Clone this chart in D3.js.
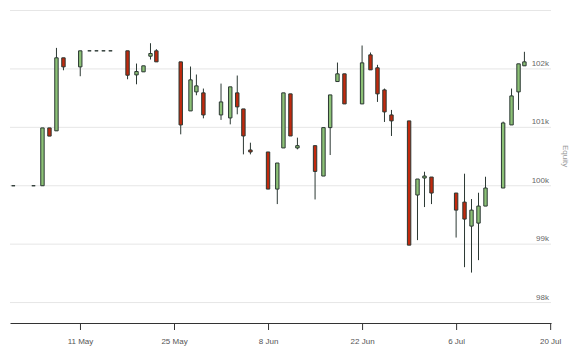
<!DOCTYPE html>
<html lang="en">
<head>
<meta charset="UTF-8">
<title>Equity Candlestick</title>
<script src="https://d3js.org/d3.v7.min.js"></script>
<style>
  body { margin: 0; background: #fff; }
  text { font-family: "Liberation Sans", Arial, sans-serif; }
</style>
</head>
<body>
<script>
// daily equity candles (timestamps)
var dates = [
  "2020-05-01T02:00", "2020-05-04T02:00", "2020-05-05T10:00", "2020-05-06T11:00", "2020-05-07T12:00",
  "2020-05-08T13:00", "2020-05-11T01:00", "2020-05-12T10:00", "2020-05-13T11:00", "2020-05-14T12:00",
  "2020-05-15T13:00", "2020-05-18T02:00", "2020-05-19T10:00", "2020-05-20T11:00", "2020-05-21T12:00",
  "2020-05-22T09:00", "2020-05-26T00:00", "2020-05-27T11:00", "2020-05-28T08:00", "2020-05-29T09:00",
  "2020-06-01T00:00", "2020-06-02T09:00", "2020-06-03T10:00", "2020-06-04T08:00", "2020-06-05T09:00",
  "2020-06-08T00:00", "2020-06-09T09:00", "2020-06-10T07:00", "2020-06-11T08:00", "2020-06-12T09:00",
  "2020-06-15T00:00", "2020-06-16T06:00", "2020-06-17T06:00", "2020-06-18T08:00", "2020-06-19T09:00",
  "2020-06-22T00:00", "2020-06-23T06:00", "2020-06-24T07:00", "2020-06-25T08:00", "2020-06-26T09:00",
  "2020-06-29T00:00", "2020-06-30T06:00", "2020-07-01T07:00", "2020-07-02T08:00", "2020-07-06T00:00",
  "2020-07-07T06:00", "2020-07-08T07:00", "2020-07-09T08:00", "2020-07-10T09:00", "2020-07-13T00:00",
  "2020-07-14T06:00", "2020-07-15T07:00", "2020-07-16T04:00"
];
var opens = [
  100000, 100000, 100000, 100990, 100940, 102190, 102035, 102310, 102310, 102310,
  102310, 102310, 101898, 101950, 102218, 102310, 102121, 101281, 101607, 101590,
  101212, 101161, 101590, 101315, 100612, 100578, 99943, 100647, 101573, 100647,
  100686, 100166, 100995, 101784, 101916, 101401, 102241, 102019, 101641, 101212,
  101110, 99841, 100132, 100149, 99875, 99720, 99309, 99360, 99652, 99961,
  101041, 101607, 102053
];
var highs = [
  100000, 100000, 100990, 100990, 102360, 102190, 102310, 102310, 102310, 102310,
  102310, 102310, 102092, 102053, 102440, 102338, 102121, 102041, 101904, 101664,
  101749, 101693, 101887, 101315, 100737, 100578, 100389, 101590, 101573, 100823,
  100686, 100995, 101555, 102109, 101916, 102401, 102281, 102070, 101664, 101298,
  101110, 100115, 100240, 100149, 99875, 100206, 99772, 99880, 100154, 101098,
  101664, 102087, 102293
];
var lows = [
  100000, 100000, 100000, 100850, 100940, 101977, 101875, 102310, 102310, 102310,
  102310, 101823, 101737, 101950, 102161, 102121, 100880, 101281, 101549, 101154,
  101127, 101051, 101223, 100537, 100537, 99943, 99686, 100647, 100852, 100623,
  99765, 100166, 100526, 101784, 101401, 101401, 101984, 101435, 101092, 100852,
  98983, 99069, 99635, 99686, 99113, 98606, 98513, 98726, 99652, 99961,
  101041, 101298, 102053
];
var closes = [
  100000, 100000, 100990, 100850, 102190, 102035, 102310, 102310, 102310, 102310,
  102310, 101892, 101955, 102053, 102264, 102121, 101041, 101813, 101710, 101212,
  101435, 101693, 101350, 100852, 100578, 99943, 100389, 101590, 100852, 100686,
  100245, 100995, 101555, 101916, 101401, 102104, 101984, 101573, 101264, 101110,
  98983, 100115, 100166, 99875, 99583, 99429, 99583, 99652, 99961, 101075,
  101538, 102087, 102121
];
var xTicks = ["2020-05-11", "2020-05-25", "2020-06-08", "2020-06-22", "2020-07-06", "2020-07-20"];
var yGrid = [98000, 99000, 100000, 101000, 102000, 103000];
var yLabels = [98000, 99000, 100000, 101000, 102000];

var parseTime = d3.timeParse("%Y-%m-%dT%H:%M");
var parseDay = d3.timeParse("%Y-%m-%d");

var data = dates.map(function(d, i) {
  return { date: parseTime(d), open: opens[i], high: highs[i], low: lows[i], close: closes[i] };
});

var width = 580, height = 360;

var svg = d3.select("body").append("svg")
  .attr("width", width)
  .attr("height", height);

var x = d3.scaleTime()
  .domain([new Date(2020, 3, 30, 14), new Date(2020, 6, 20, 3)])
  .range([10, 551]);

var y = d3.scaleLinear()
  .domain([97650, 103180])
  .range([323, 0]);

// gridlines
svg.append("g").selectAll("line")
  .data(yGrid)
  .enter().append("line")
  .attr("x1", 10)
  .attr("x2", 551)
  .attr("y1", d => y(d))
  .attr("y2", d => y(d))
  .attr("stroke", "#e6e6e6")
  .attr("stroke-width", 1);

// right-hand labels
svg.append("g").selectAll("text")
  .data(yLabels)
  .enter().append("text")
  .attr("x", 549)
  .attr("y", d => y(d) - 3)
  .attr("text-anchor", "end")
  .attr("font-size", "8px")
  .attr("fill", "#666")
  .text(d => (d / 1000) + "k");

svg.append("text")
  .attr("transform", "translate(563," + 156 + ") rotate(90)")
  .attr("text-anchor", "middle")
  .attr("font-size", "8px")
  .attr("fill", "#999")
  .text("Equity");

// bottom axis
var xAxis = svg.append("g")
  .attr("transform", "translate(0,323)")
  .call(d3.axisBottom(x)
    .tickValues(xTicks.map(parseDay))
    .tickFormat(d3.timeFormat("%-d %b"))
    .tickSize(7)
    .tickSizeOuter(0)
    .tickPadding(8));
xAxis.selectAll("path, line").attr("stroke", "#333");
xAxis.selectAll("text")
  .attr("font-size", "8px")
  .attr("font-family", "Liberation Sans, Arial, sans-serif")
  .attr("fill", "#555");

// candles
var bodyW = 3.4;
var candles = svg.append("g").selectAll("g")
  .data(data)
  .enter().append("g");

candles.append("line")
  .attr("x1", d => x(d.date))
  .attr("x2", d => x(d.date))
  .attr("y1", d => y(d.high))
  .attr("y2", d => y(d.low))
  .attr("stroke", "#2b3833")
  .attr("stroke-width", 1);

candles.append("path")
  .attr("d", function(d) {
    var top = y(Math.max(d.open, d.close));
    var h = y(Math.min(d.open, d.close)) - top;
    var cx = x(d.date);
    return "M" + (cx - bodyW / 2) + "," + top + "h" + bodyW + "v" + h + "h" + (-bodyW) + "Z";
  })
  .attr("fill", d => d.close >= d.open ? "#8cc176" : "#c1290d")
  .attr("stroke", "#2b3833")
  .attr("stroke-width", 1);
</script>
</body>
</html>
